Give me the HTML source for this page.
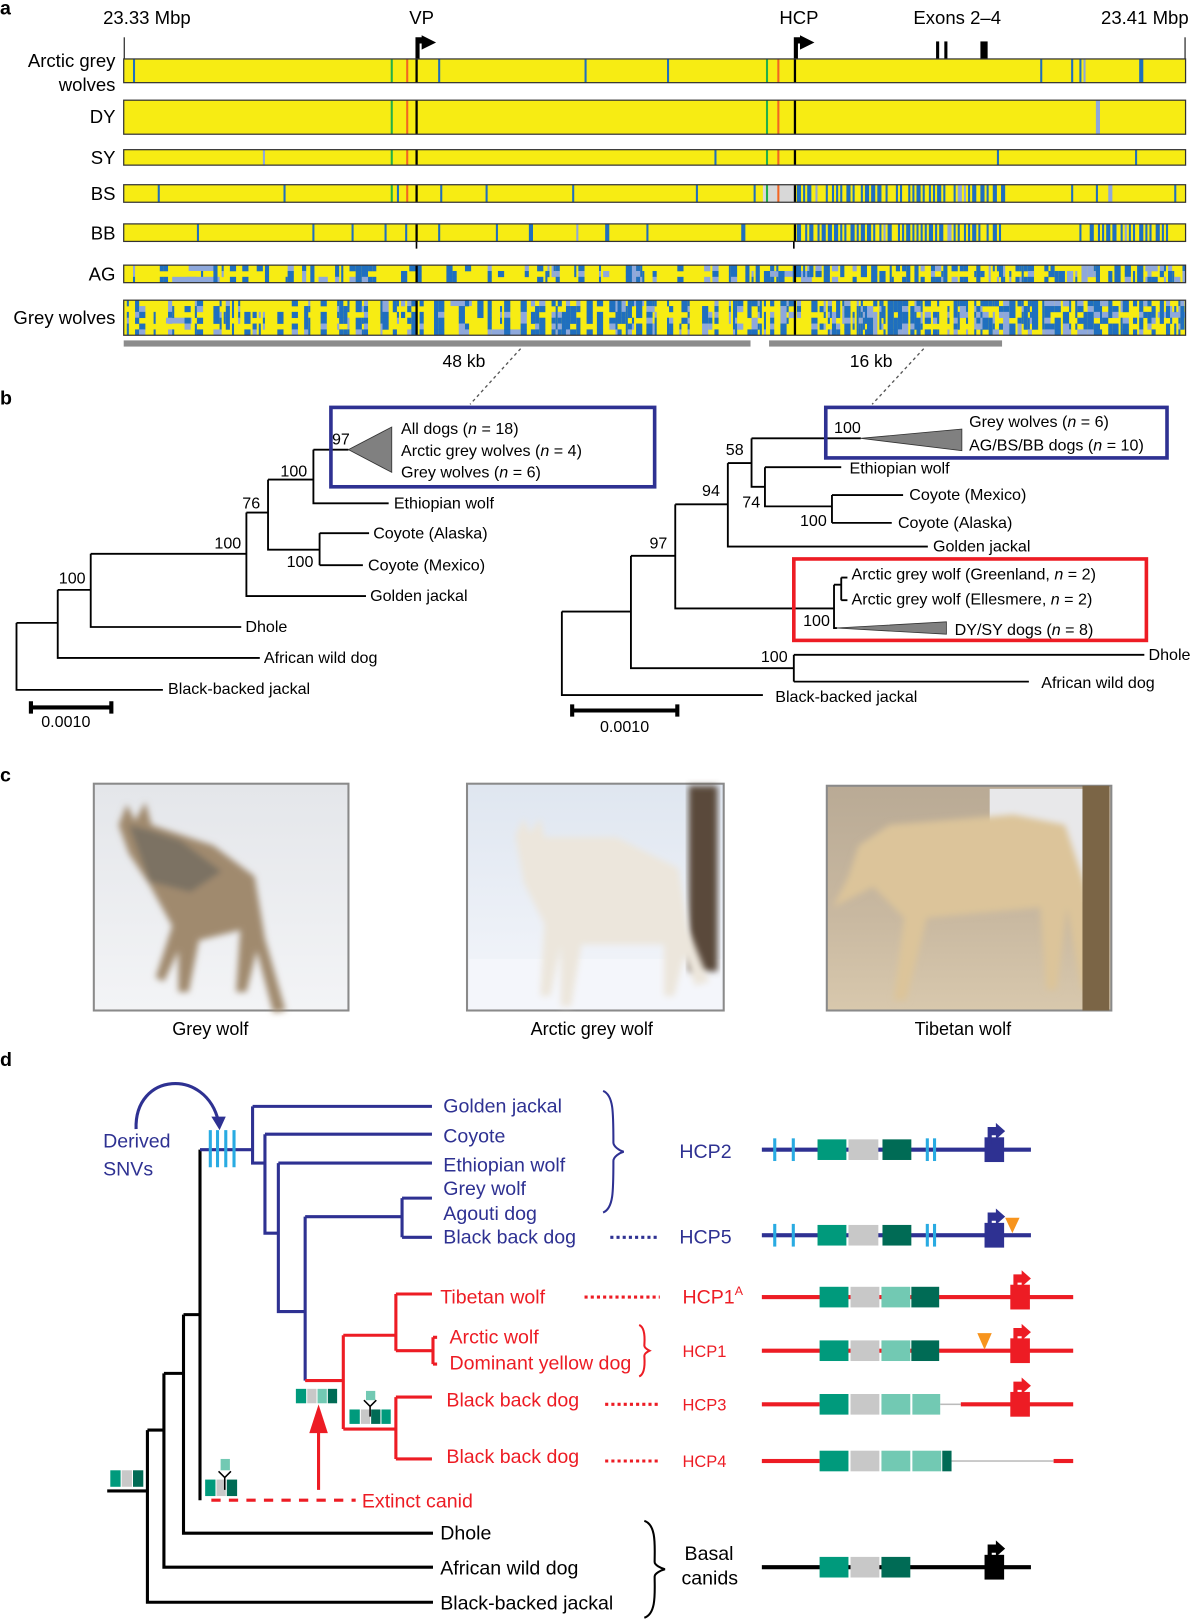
<!DOCTYPE html>
<html><head><meta charset="utf-8"><style>
html,body{margin:0;padding:0;background:#fff}
svg{display:block}
text{font-family:"Liberation Sans",Arial,sans-serif}
</style></head><body>
<svg id="s" width="1200" height="1621" viewBox="0 0 1164 1572" xmlns="http://www.w3.org/2000/svg">
<defs>
<linearGradient id="g1" x1="0" y1="0" x2="0" y2="1"><stop offset="0" stop-color="#e4e6ea"/><stop offset="1" stop-color="#f3f4f6"/></linearGradient>
<linearGradient id="g2" x1="0" y1="0" x2="0" y2="1"><stop offset="0" stop-color="#dfe6f0"/><stop offset="1" stop-color="#f4f6fb"/></linearGradient>
<linearGradient id="g3" x1="0" y1="0" x2="0" y2="1"><stop offset="0" stop-color="#b9aa95"/><stop offset="0.6" stop-color="#c9b9a1"/><stop offset="1" stop-color="#d8c8ad"/></linearGradient>
<filter id="bl"><feGaussianBlur stdDeviation="3"/></filter>
</defs>
<g font-size="19" font-weight="bold"><text x="0" y="14">a</text><text x="0" y="392">b</text><text x="0" y="758">c</text><text x="0" y="1034">d</text></g>
<g font-size="18" fill="#000">
<text x="100" y="23">23.33 Mbp</text><text x="397" y="23">VP</text><text x="756" y="23">HCP</text><text x="886" y="23">Exons 2–4</text><text x="1068" y="23">23.41 Mbp</text>
<text x="112" y="65" text-anchor="end">Arctic grey</text><text x="112" y="88" text-anchor="end">wolves</text>
<text x="112" y="119" text-anchor="end">DY</text><text x="112" y="159" text-anchor="end">SY</text><text x="112" y="194" text-anchor="end">BS</text><text x="112" y="232" text-anchor="end">BB</text><text x="112" y="272" text-anchor="end">AG</text><text x="112" y="314" text-anchor="end">Grey wolves</text>
</g>
<g stroke="#000" stroke-width="1"><line x1="120.5" y1="36" x2="120.5" y2="57"/><line x1="1149.5" y1="36" x2="1149.5" y2="57"/></g>
<path d="M403 57V36h6v-2l14 7-14 7v-6h-2v15z" fill="#000"/>
<path d="M770 57V36h6v-2l14 7-14 7v-6h-2v15z" fill="#000"/>
<rect x="908" y="40" width="3" height="17" fill="#000"/><rect x="916" y="40" width="3" height="17" fill="#000"/><rect x="951" y="40" width="7" height="17" fill="#000"/>
<g id="bars"></g>
<g stroke="#000" stroke-width="1.6"><line x1="404" y1="234" x2="404" y2="241"/><line x1="770" y1="234" x2="770" y2="241"/></g>
<rect x="120" y="330" width="608" height="6" fill="#8c8c8c"/><rect x="746" y="330" width="226" height="6" fill="#8c8c8c"/>
<text x="450" y="356" font-size="17" text-anchor="middle">48 kb</text><text x="845" y="356" font-size="17" text-anchor="middle">16 kb</text>
<g stroke="#555" stroke-width="1.3" stroke-dasharray="3,3"><line x1="505" y1="338" x2="456" y2="392"/><line x1="896" y1="338" x2="846" y2="392"/></g>
<g stroke="#000" stroke-width="1.8" fill="none">
<path d="M16 604V669H158M16 604H56M56 572V638H252M56 572H88M88 537V608H234M88 537H239M239 497V578H355M239 497H260M260 465V533H310M310 517V548M310 517H358M310 548H352M260 465H304M304 436V488H377M304 436H338"/>
<path d="M30 686H108M30 680V692M108 680V692" stroke-width="4"/>
</g>
<polygon points="338,436 380,414 380,458" fill="#808080" stroke="#333" stroke-width="0.8"/>
<rect x="321" y="395" width="314" height="77" fill="none" stroke="#2e3192" stroke-width="3.5"/>
<g font-size="15.6">
<text x="389" y="421">All dogs (<tspan font-style="italic">n</tspan> = 18)</text>
<text x="389" y="442">Arctic grey wolves (<tspan font-style="italic">n</tspan> = 4)</text>
<text x="389" y="463">Grey wolves (<tspan font-style="italic">n</tspan> = 6)</text>
<text x="382" y="493">Ethiopian wolf</text><text x="362" y="522">Coyote (Alaska)</text><text x="357" y="553">Coyote (Mexico)</text><text x="359" y="583">Golden jackal</text>
<text x="238" y="613">Dhole</text><text x="256" y="643">African wild dog</text><text x="163" y="673">Black-backed jackal</text>
<text x="322" y="431">97</text><text x="272" y="462">100</text><text x="235" y="493">76</text><text x="208" y="532">100</text><text x="278" y="550">100</text><text x="57" y="566">100</text>
<text x="40" y="705">0.0010</text>
</g>
<g stroke="#000" stroke-width="1.8" fill="none">
<path d="M545 593V674H740M545 593H612M612 539V648H770M770 635V661M770 635H1110M770 661H998M612 539H655M655 489V590H809M655 489H706M706 449V530H900M706 449H729M729 425V472H742M729 425H835M742 453V491H807M742 453H816M807 480V507M807 480H876M807 507H865M809 567V609H812M809 567H816M816 560V582M816 560H822M816 582H822"/>
<path d="M555 689H657M555 683V695M657 683V695" stroke-width="4"/>
</g>
<polygon points="835,425 933,416 933,437" fill="#808080" stroke="#333" stroke-width="0.8"/>
<polygon points="811,609 918,603 918,615" fill="#808080" stroke="#333" stroke-width="0.8"/>
<rect x="801" y="395" width="331" height="49" fill="none" stroke="#2e3192" stroke-width="3.5"/>
<rect x="770" y="542" width="342" height="79" fill="none" stroke="#ed1c24" stroke-width="3.5"/>
<g font-size="15.6">
<text x="940" y="414">Grey wolves (<tspan font-style="italic">n</tspan> = 6)</text>
<text x="940" y="437">AG/BS/BB dogs (<tspan font-style="italic">n</tspan> = 10)</text>
<text x="824" y="459">Ethiopian wolf</text><text x="882" y="485">Coyote (Mexico)</text><text x="871" y="512">Coyote (Alaska)</text><text x="905" y="535">Golden jackal</text>
<text x="826" y="562">Arctic grey wolf (Greenland, <tspan font-style="italic">n</tspan> = 2)</text>
<text x="826" y="586">Arctic grey wolf (Ellesmere, <tspan font-style="italic">n</tspan> = 2)</text>
<text x="926" y="616">DY/SY dogs (<tspan font-style="italic">n</tspan> = 8)</text>
<text x="1114" y="640">Dhole</text><text x="1010" y="667">African wild dog</text><text x="752" y="681">Black-backed jackal</text>
<text x="809" y="420">100</text><text x="704" y="441">58</text><text x="681" y="481">94</text><text x="720" y="492">74</text><text x="776" y="510">100</text><text x="630" y="532">97</text><text x="779" y="607">100</text><text x="738" y="642">100</text>
<text x="582" y="710">0.0010</text>
</g>
<g>
<rect x="91" y="760" width="247" height="220" fill="url(#g1)" stroke="#8a8a8a" stroke-width="2"/>
<g filter="url(#bl)">
<path d="M115 800l8-20 8 16 10-18 6 22 60 20 40 30 10 60 20 70-12 2-16-60-10 40-10 0 4-60-40 10-10 50-10 0 0-40-14 30-8-4 16-50-22-40-20-30z" fill="#a08a6e"/>
<path d="M125 800l20 5 30 10 40 30-30 20-40-10z" fill="#7c7264"/></g>
<rect x="453" y="760" width="249" height="220" fill="url(#g2)" stroke="#8a8a8a" stroke-width="2"/>
<rect x="455" y="930" width="245" height="48" fill="#f4f6fb"/>
<rect x="668" y="762" width="28" height="180" fill="#5a4a3a" filter="url(#bl)"/>
<path filter="url(#bl)" d="M500 810l8-16 6 14 10-14 4 18 70 0 60 30 10 60 20 50-14 4-10-30-10 40-10 0 0-50-80 0-10 60-10 0 0-60-10 50-10 0 4-70-20-40z" fill="#ece6dc"/>
<rect x="802" y="762" width="276" height="218" fill="url(#g3)" stroke="#8a8a8a" stroke-width="2"/>
<rect x="960" y="765" width="110" height="110" fill="#e8e8ea"/>
<path filter="url(#bl)" d="M808 880l15-30 10-30 30-20 120 -10 50 10 20 60 10 100-14 0-14-80-10 80-10 0-6-80-110 10-20 80-12 0 10-80-30-30z" fill="#dcc49a"/>
<rect x="1050" y="762" width="26" height="218" fill="#7b6546"/>
<g font-size="17.5" text-anchor="middle"><text x="204" y="1004">Grey wolf</text><text x="574" y="1004">Arctic grey wolf</text><text x="934" y="1004">Tibetan wolf</text></g>
</g>
<g fill="none" stroke-width="3">
<g stroke="#000">
<path d="M104 1446H143M143 1387V1554H420M143 1387H159M159 1332V1520H420M159 1332H178M178 1275V1487H420M178 1275H194M194 1115V1455"/>
</g>
<g stroke="#2e3192">
<path d="M194 1115H245M245 1073V1128H257M245 1073H419M257 1100V1196H270M257 1100H419M270 1128V1272H296M270 1128H419M296 1180V1339M296 1180H390M390 1162V1200M390 1162H419M390 1200H419"/>
<path d="M132 1095C130 1040 200 1035 212 1088"/>
<path d="M585 1058c10 4 10 20 10 50 0 4 6 8 10 9-4 1-10 5-10 9 0 30 0 46-10 50" stroke-width="2"/>
<path d="M592 1200H640" stroke-dasharray="3,3"/>
</g>
<polygon points="205,1083 219,1083 213,1096" fill="#2e3192"/>
<g stroke="#ed1c24">
<path d="M296 1339H333M333 1295V1386M333 1295H384M384 1255V1310M384 1255H419M384 1310H419M420 1297V1323M420 1297H424M420 1323H424M333 1386H384M384 1355V1415M384 1355H419M384 1415H419"/>
<path d="M205 1455H345" stroke-dasharray="9,8"/>
<path d="M567 1258H640M587 1362H640M587 1417H640" stroke-dasharray="3,3"/>
<path d="M309 1445V1385"/>
<path d="M620 1285c7 3 5 18 5 20 0 2 3 4 5 5-2 1-5 3-5 5 0 2 2 17-5 20" stroke-width="2"/>
</g>
<polygon points="300,1390 318,1390 309,1362" fill="#ed1c24"/>
<path d="M625 1475c12 4 10 25 10 40 0 3 6 6 10 7-4 1-10 4-10 7 0 15 2 36-10 40" stroke="#000" stroke-width="2"/>
</g>
<g stroke="#29abe2" stroke-width="3"><path d="M204 1096v36M211 1096v36M219 1096v36M227 1096v36"/></g>
<g>
<rect x="107" y="1426" width="10" height="16" fill="#009a7c"/><rect x="118" y="1426" width="10" height="16" fill="#c8c8c8"/><rect x="129" y="1426" width="10" height="16" fill="#006b55"/>
<rect x="287" y="1347" width="10" height="14" fill="#009a7c"/><rect x="298" y="1347" width="9" height="14" fill="#c8c8c8"/><rect x="308" y="1347" width="9" height="14" fill="#72c9b3"/><rect x="318" y="1347" width="9" height="14" fill="#006b55"/>
<rect x="339" y="1367" width="10" height="14" fill="#009a7c"/><rect x="350" y="1367" width="9" height="14" fill="#c8c8c8"/><rect x="360" y="1367" width="9" height="14" fill="#006b55"/><rect x="370" y="1367" width="9" height="14" fill="#009a7c"/>
<rect x="355" y="1349" width="9" height="9" fill="#72c9b3"/><path d="M353 1358l6 6 6-6M359 1364v10" stroke="#000" stroke-width="1.5" fill="none"/>
<rect x="199" y="1435" width="10" height="16" fill="#009a7c"/><rect x="210" y="1435" width="9" height="16" fill="#c8c8c8"/><rect x="220" y="1435" width="10" height="16" fill="#006b55"/>
<rect x="214" y="1415" width="9" height="11" fill="#72c9b3"/><path d="M212 1427l6 6 6-6M218 1433v12" stroke="#000" stroke-width="1.5" fill="none"/>
</g>
<g font-size="19">
<g fill="#2e3192"><text x="100" y="1113">Derived</text><text x="100" y="1140">SNVs</text>
<text x="430" y="1079">Golden jackal</text><text x="430" y="1108">Coyote</text><text x="430" y="1136">Ethiopian wolf</text><text x="430" y="1159">Grey wolf</text><text x="430" y="1183">Agouti dog</text><text x="430" y="1206">Black back dog</text>
<text x="659" y="1123">HCP2</text><text x="659" y="1206">HCP5</text></g>
<g fill="#ed1c24"><text x="427" y="1264">Tibetan wolf</text><text x="436" y="1303">Arctic wolf</text><text x="436" y="1328">Dominant yellow dog</text><text x="433" y="1364">Black back dog</text><text x="433" y="1419">Black back dog</text>
<text x="662" y="1264">HCP1<tspan font-size="12" dy="-8">A</tspan></text><text x="662" y="1316" font-size="16">HCP1</text><text x="662" y="1368" font-size="16">HCP3</text><text x="662" y="1423" font-size="16">HCP4</text>
<text x="351" y="1462">Extinct canid</text></g>
<text x="427" y="1493">Dhole</text><text x="427" y="1527">African wild dog</text><text x="427" y="1561">Black-backed jackal</text>
<text x="664" y="1513">Basal</text><text x="661" y="1537">canids</text>
</g>
<g id="genes"></g>
</svg>
<script>
(function(){
var NS="http://www.w3.org/2000/svg";
function el(p,t,a){var e=document.createElementNS(NS,t);for(var k in a)e.setAttribute(k,a[k]);p.appendChild(e);return e;}
var seed=12345;function r(){seed=(seed*16807)%2147483647;return seed/2147483647;}
var bars=document.getElementById('bars');
var X0=120,X1=1150,VP=404,HCP=771;
var BLUE="#1f6fbf",LB="#8ea8dc";
function cw(x,w){return Math.max(0,Math.min(w,X1-x));}
var rows=[
 {y:57,h:23,n:1,d:function(x){return 0.012+(x>955?0.05:0)},lb:0.1,g:1},
 {y:97,h:33,n:1,d:function(x){return 0.002},lb:0.5,g:1},
 {y:145,h:15,n:1,d:function(x){return 0.006},lb:0.3,g:1},
 {y:179,h:17,n:1,d:function(x){return x>772&&x<972?0.7:(x>972?0.06:0.03)},lb:0.05,g:1,gray:1},
 {y:217,h:17,n:1,d:function(x){return x>772&&x<972?0.7:(x>1045&&x<1135?0.7:0.05)},lb:0.08,g:0},
 {y:257,h:17,n:3,d:function(x){return x<580?0.2:(x>772?0.6:0.4)},lb:0.25,g:0,p:1},
 {y:291,h:34,n:6,d:function(x){return x<580?0.3:(x>772?0.7:0.45)},lb:0.3,g:0,p:1}
];
rows.forEach(function(R){
 el(bars,'rect',{x:X0,y:R.y,width:X1-X0,height:R.h,fill:'#f7ec13'});
 if(R.gray)el(bars,'rect',{x:740,y:R.y,width:31,height:R.h,fill:'#d8d8d8'});
 var sh=R.h/R.n;
 for(var x=X0+1;x<X1-1;x+=2){
  var d=R.d(x);
  if(R.n==1){ if(r()<d){var w=r()<0.6?2:4;el(bars,'rect',{x:x,y:R.y,width:cw(x,w),height:R.h,fill:r()<R.lb?LB:BLUE});x+=w;} }
  else{ var col=r()<d; if(col){var w=2+Math.floor(r()*3)*2;for(var i=0;i<R.n;i++){ if(r()<0.75) el(bars,'rect',{x:x,y:R.y+i*sh,width:cw(x,w),height:sh+0.3,fill:r()<R.lb?LB:BLUE}); } x+=w-2;}
   else if(R.p&&r()<0.04){var i=Math.floor(r()*R.n);el(bars,'rect',{x:x,y:R.y+i*sh,width:cw(x,6+r()*30),height:sh,fill:LB});}
  }
 }
 if(R.g){
  el(bars,'rect',{x:379,y:R.y,width:2,height:R.h,fill:'#22b04a'});el(bars,'rect',{x:394,y:R.y,width:2,height:R.h,fill:'#f26522'});
  el(bars,'rect',{x:743,y:R.y,width:2,height:R.h,fill:'#22b04a'});el(bars,'rect',{x:754,y:R.y,width:2,height:R.h,fill:'#f26522'});
 }
 el(bars,'rect',{x:VP-1,y:R.y,width:2.2,height:R.h,fill:'#000'});
 el(bars,'rect',{x:HCP-1,y:R.y,width:2.2,height:R.h,fill:'#000'});
 el(bars,'rect',{x:X0,y:R.y,width:X1-X0,height:R.h,fill:'none',stroke:'#333','stroke-width':1.2});
});
var G=document.getElementById('genes');
var T="#009a7c",D="#006b55",L="#72c9b3",C="#c8c8c8";
function line(x1,x2,y,c,w){el(G,'rect',{x:x1,y:y-w/2,width:x2-x1,height:w,fill:c});}
function box(x,y,w,c){el(G,'rect',{x:x,y:y-10,width:w,height:20,fill:c});}
function prom(x,y,c){el(G,'rect',{x:x,y:y-12,width:19,height:24,fill:c});el(G,'path',{d:'M'+(x+3)+' '+(y-10)+'V'+(y-22)+'h8v-4l9 8-9 8v-4h-4v'+(8),fill:c});}
function ticks(y,xs){xs.forEach(function(x){el(G,'rect',{x:x,y:y-11,width:3,height:22,fill:'#29abe2'});});}
var B="#2e3192",RD="#ed1c24";
[[1115,0],[1198,1]].forEach(function(a){var y=a[0];line(739,1000,y,B,4);ticks(y,[750,768,898,905]);box(793,y,28,T);box(823,y,29,C);box(856,y,28,D);prom(955,y,B);
 if(a[1])el(G,'polygon',{points:'975,1181 989,1181 982,1196',fill:'#f7941d'});});
[[1258,0],[1310,1]].forEach(function(a){var y=a[0];line(739,1041,y,RD,4);box(795,y,28,T);box(825,y,28,C);box(855,y,28,L);box(884,y,27,D);prom(980,y,RD);
 if(a[1])el(G,'polygon',{points:'948,1293 962,1293 955,1309',fill:'#f7941d'});});
var y=1362;line(739,795,y,RD,4);line(912,932,y,'#bbb',1.5);line(932,1041,y,RD,4);box(795,y,28,T);box(825,y,28,C);box(855,y,28,L);box(885,y,27,L);prom(980,y,RD);
y=1417;line(739,795,y,RD,4);line(923,1022,y,'#bbb',1.5);line(1022,1041,y,RD,4);box(795,y,28,T);box(825,y,28,C);box(855,y,28,L);box(885,y,28,L);box(914,y,9,D);
y=1520;line(739,1000,y,'#000',4);box(795,y,28,T);box(825,y,28,C);box(855,y,28,D);prom(955,y,'#000');
})();
</script>
</body></html>
